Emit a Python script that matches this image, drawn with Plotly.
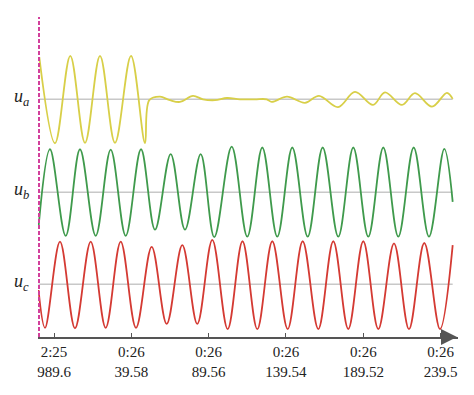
import plotly.graph_objects as go

# ---- data (time in ms from first tick, values in per-unit amplitude) ----
ua_t = [-9.5, 0.65, 10.53, 20.04, 29.73, 39.42, 49.77, 58.81, 61.59, 68.51, 74.97,
        81.43, 89.84, 96.3, 104.05, 111.81, 120.21, 129.91, 137.47, 140.70, 150.59,
        162.22, 171.27, 183.55, 194.54, 206.17, 213.93, 224.91, 233.31, 244.30,
        253.99, 257.68]
ua_v = [0.97, -1.01, 1.0, -1.0, 1.0, -1.0, 1.0, -1.01, -0.02, 0.06, -0.02,
        -0.06, 0.08, 0.0, -0.02, 0.03, 0.0, 0.0, 0.0, -0.06, 0.06,
        -0.08, 0.08, -0.18, 0.17, -0.13, 0.16, -0.13, 0.14, -0.17,
        0.15, 0.01]

ub_t = [-10.0, -2.59, 7.56, 16.80, 26.95, 36.65, 46.34, 56.23, 65.28, 75.42, 84.67,
        94.81, 103.60, 114.85, 124.93, 134.63, 144.32, 154.01, 163.97, 173.66,
        183.74, 193.44, 203.13, 212.83, 222.52, 232.47, 242.36, 252.25, 257.68]
ub_v = [-0.80, 0.99, -1.0, 0.99, -1.0, 0.98, -1.0, 0.99, -0.86, 0.88, -0.86,
        0.88, -1.03, 1.05, -1.02, 1.03, -1.02, 1.03, -1.02, 1.03,
        -1.02, 1.03, -1.02, 1.03, -1.02, 1.03, -1.02, 1.0, -0.22]

uc_t = [-10.0, -5.82, 3.88, 13.57, 23.72, 33.41, 43.11, 53.00, 63.14, 72.84, 82.92,
        92.61, 102.31, 112.26, 121.83, 131.39, 141.09, 151.04, 160.73, 170.82,
        180.51, 190.20, 199.90, 209.59, 219.74, 229.44, 239.32, 249.47, 257.68]
uc_v = [-0.13, -1.0, 0.98, -1.01, 0.98, -1.0, 0.98, -1.0, 0.86, -0.91, 0.90,
        -0.91, 1.02, -1.03, 0.99, -1.03, 0.99, -1.03, 0.99, -1.03,
        0.99, -1.03, 0.99, -1.03, 0.94, -1.03, 0.95, -1.03, 0.90]

tick_vals = [0, 49.98, 99.96, 149.94, 199.92, 249.90]
tick_top = ["2:25", "0:26", "0:26", "0:26", "0:26", "0:26"]
tick_bottom = ["989.6", "39.58", "89.56", "139.54", "189.52", "239.5"]

series_names = ["a", "b", "c"]
series_colors = ["#d8cf48", "#3f9a4c", "#d43a33"]
offsets = [4.253, 2.115, 0.0]

# ---- layout geometry ----
W, H = 474, 395
L, R, T, B = 38, 16, 16, 58
ms_per_px = 49.98 / 77.33
x_min = (38 - 54) * ms_per_px
x_max = (W - R - 54) * ms_per_px
y_min, y_max = -1.211, 6.168

fig = go.Figure()
for name, t, v, col, off in zip(series_names, [ua_t, ub_t, uc_t], [ua_v, ub_v, uc_v],
                                series_colors, offsets):
    fig.add_trace(go.Scatter(x=t, y=[off + val for val in v], mode="lines",
                             line=dict(color=col, width=1.8, shape="spline", smoothing=1.0),
                             showlegend=False, hoverinfo="skip"))
    # baseline
    fig.add_shape(type="line", xref="x", yref="y", x0=t[0], x1=t[-1], y0=off, y1=off,
                  line=dict(color="#c8c8c8", width=1.5), layer="below")
    fig.add_annotation(xref="paper", yref="y", x=-(38 - 31) / (W - L - R), y=off + 0.05,
                       xanchor="right", yanchor="middle", showarrow=False,
                       text=f"<i>u</i><sub><i>{name}</i></sub>",
                       font=dict(family="Liberation Serif", size=18, color="#222"))

# dashed marker line
fig.add_shape(type="line", xref="x", yref="paper", x0=(39 - 54) * ms_per_px,
              x1=(39 - 54) * ms_per_px, y0=0, y1=0.997,
              line=dict(color="#d2409c", width=2, dash="4px,2px"))

# axis arrow head
fig.add_annotation(xref="x", yref="paper", x=(457 - 54) * ms_per_px, y=0,
                   ax=-14, ay=0, axref="pixel", ayref="pixel", text="", showarrow=True,
                   arrowhead=2, arrowsize=1.6, arrowwidth=2, arrowcolor="#555")

fig.update_layout(
    width=W, height=H,
    margin=dict(l=L, r=R, t=T, b=B),
    plot_bgcolor="white", paper_bgcolor="white",
    xaxis=dict(range=[x_min, x_max], showgrid=False, zeroline=False,
               showline=True, linecolor="#555", linewidth=2,
               ticks="inside", ticklen=4, tickcolor="#555", tickwidth=1,
               tickvals=tick_vals,
               ticktext=[f"{a}<br>{b}" for a, b in zip(tick_top, tick_bottom)],
               tickfont=dict(family="Liberation Serif", size=15, color="#222")),
    yaxis=dict(range=[y_min, y_max], visible=False, showgrid=False, zeroline=False),
)

fig.write_html("out.html", config={"displayModeBar": False},
               post_script="document.body.style.margin='0';")
